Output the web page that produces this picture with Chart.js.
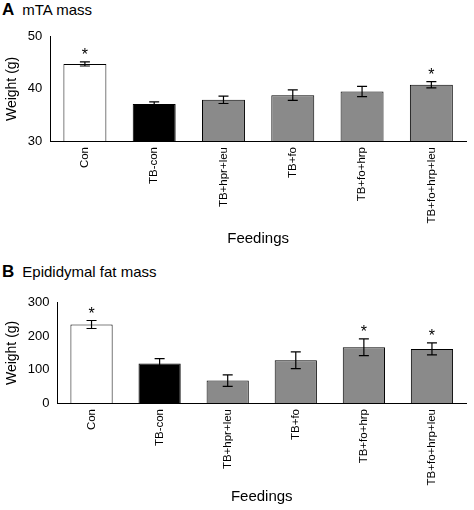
<!DOCTYPE html>
<html>
<head>
<meta charset="utf-8">
<script src="https://cdn.jsdelivr.net/npm/chart.js@4"></script>
<style>
  body { margin: 0; background: #fff; font-family: Arial, "Liberation Sans", sans-serif; }
  .wrap { position: absolute; left: 0; width: 474px; }
  .title { position: absolute; left: 2px; font-size: 15px; }
  .title b { font-size: 17px; margin-right: 8px; }
</style>
</head>
<body>
<div class="title" style="top:0px"><b>A</b>mTA mass</div>
<div class="wrap" style="top:26px;height:226px"><canvas id="chartA"></canvas></div>
<div class="title" style="top:262px"><b>B</b>Epididymal fat mass</div>
<div class="wrap" style="top:292px;height:218px"><canvas id="chartB"></canvas></div>
<script>
// groups
const feedings = ['Con', 'TB-con', 'TB+hpr+leu', 'TB+fo', 'TB+fo+hrp', 'TB+fo+hrp+leu'];

// mTA mass (g)
const mtaMass = [44.8, 37.1, 37.9, 38.8, 39.5, 40.8];
const mtaErr = [0.4, 0.4, 0.7, 1.0, 1.0, 0.6];
const mtaStar = [true, false, false, false, false, true];
const mtaTicks = [30, 40, 50];

// epididymal fat mass (g)
const fatMass = [235, 118, 67, 128, 167, 162];
const fatErr = [12, 15, 17, 25, 25, 18];
const fatStar = [true, false, false, false, true, true];
const fatTicks = [0, 50, 100, 150, 200, 250, 300];

const fills = ['#ffffff', '#000000', '#8a8a8a', '#8a8a8a', '#8a8a8a', '#8a8a8a'];

// error bars + asterisks
const errorPlugin = {
  id: 'errs',
  afterDatasetsDraw(chart) {
    const o = chart.options.plugins.errs;
    const ctx = chart.ctx, y = chart.scales.y;
    const meta = chart.getDatasetMeta(0);
    ctx.save();
    ctx.strokeStyle = '#000';
    ctx.lineWidth = 1.2;
    meta.data.forEach((bar, i) => {
      const v = o.values[i], e = o.errors[i];
      const top = y.getPixelForValue(v + e), bot = y.getPixelForValue(v - e);
      ctx.beginPath();
      ctx.moveTo(bar.x, top); ctx.lineTo(bar.x, bot);
      ctx.moveTo(bar.x - 5, top); ctx.lineTo(bar.x + 5, top);
      ctx.moveTo(bar.x - 5, bot); ctx.lineTo(bar.x + 5, bot);
      ctx.stroke();
      if (o.stars[i]) {
        ctx.fillStyle = '#000';
        ctx.font = '16px Arial';
        ctx.textAlign = 'center';
        ctx.fillText('*', bar.x, top - 2);
      }
    });
    ctx.restore();
  }
};

function makeChart(id, values, errors, stars, ticks) {
  return new Chart(document.getElementById(id), {
    type: 'bar',
    data: {
      labels: feedings,
      datasets: [{
        data: values,
        backgroundColor: fills,
        borderColor: '#000',
        borderWidth: 1,
        barPercentage: 0.62,
        categoryPercentage: 1
      }]
    },
    options: {
      responsive: true,
      maintainAspectRatio: false,
      animation: false,
      layout: { padding: { right: 8, top: 4 } },
      plugins: {
        legend: { display: false },
        tooltip: { enabled: false },
        errs: { values: values, errors: errors, stars: stars }
      },
      scales: {
        x: {
          grid: { display: false, drawTicks: false },
          border: { color: '#000' },
          ticks: { color: '#000', font: { size: 11.5 }, minRotation: 90, maxRotation: 90, padding: 6 },
          title: { display: true, text: 'Feedings', color: '#000', font: { size: 15 }, padding: { top: 2 } }
        },
        y: {
          min: ticks[0],
          max: ticks[ticks.length - 1],
          afterBuildTicks: axis => { axis.ticks = ticks.map(v => ({ value: v })); },
          grid: { display: false, drawTicks: true, tickLength: 5, tickColor: '#000' },
          border: { color: '#000' },
          ticks: { color: '#000', font: { size: 13 } },
          title: { display: true, text: 'Weight (g)', color: '#000', font: { size: 14 } }
        }
      }
    },
    plugins: [errorPlugin]
  });
}

makeChart('chartA', mtaMass, mtaErr, mtaStar, mtaTicks);
makeChart('chartB', fatMass, fatErr, fatStar, fatTicks);
</script>
</body>
</html>
